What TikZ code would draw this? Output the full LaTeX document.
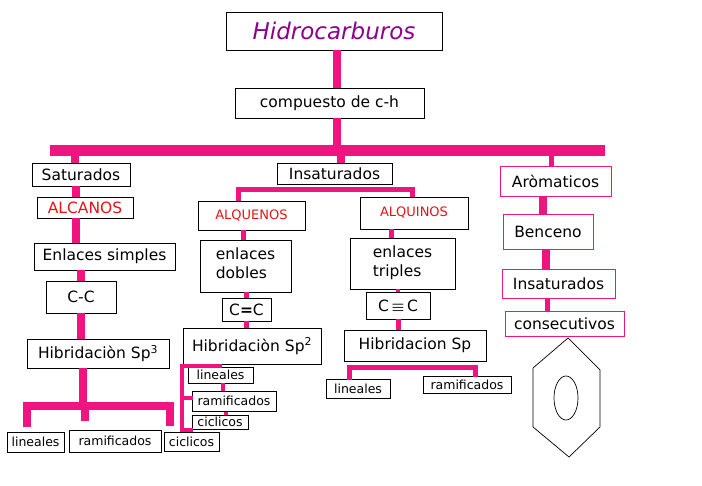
\documentclass[tikz,border=0pt]{standalone}
\usepackage{fontspec}
\setmainfont{DejaVu Sans}
\definecolor{pk}{RGB}{240,20,128}
\definecolor{pu}{RGB}{140,0,140}
\definecolor{rd}{RGB}{230,20,20}
\newcommand\bx[7]{\node[box,#6,minimum width={#4pt-#2pt},minimum height={#5pt-#3pt}] (#1) at ({(#2+#4)/2},{(#3+#5)/2}) {#7};}
\begin{document}
\begin{tikzpicture}[x=1pt,y=-1pt,
  box/.style={draw=black,line width=0.8pt,inner sep=0pt,font=\fontsize{15.5}{17}\selectfont},
  pbox/.style={draw=pk},
  sm/.style={font=\fontsize{12.5}{14}\selectfont},
  c8/.style={draw=pk,line width=8pt},
  c5/.style={draw=pk,line width=5pt},
  c3/.style={draw=pk,line width=3.5pt}]
\useasboundingbox (0,0) rectangle (702,486);
\fill[white] (0,0) rectangle (702,486);
% top
\bx{h}{226}{12}{442}{50}{}{\textcolor{pu}{\fontsize{23}{25}\selectfont\itshape Hidrocarburos}}
\bx{c}{235}{88}{424}{118}{}{compuesto de c-h}
\coordinate (bl) at (50,151); \coordinate (br) at (605,151);
\draw[c8,line width=11pt] (bl) -- (br);
\draw[c8] ([xshift=3]h.south) -- ([xshift=3]h.south |- c.north);
\draw[c8] ([xshift=3]h.south |- c.south) -- ([xshift=3]h.south |- bl);
% Saturados
\bx{sat}{32}{163}{130}{186}{}{Saturados}
\bx{alc}{37}{197}{133}{218}{}{\textcolor{rd}{ALCANOS}}
\bx{es}{34}{243}{175}{270}{}{Enlaces simples}
\bx{cc}{46}{281}{116}{313}{}{C-C}
\bx{h3}{27}{339}{169}{368}{}{Hibridaciòn Sp\textsuperscript{3}}
\bx{l1}{7}{432}{64}{452}{sm}{lineales}
\bx{r1}{69}{430}{161}{452}{sm}{ramificados}
\bx{ci1}{164}{432}{219}{451}{sm}{ciclicos}
\draw[c8] (75,155) -- (75,163);
\draw[c8] ([xshift=-5]sat.south) -- ([xshift=-5]sat.south |- alc.north);
\draw[c8] ([xshift=-9]alc.south) -- ([xshift=-9]alc.south |- es.north);
\draw[c8] (cc.north) -- (cc.north |- es.south);
\draw[c8] (cc.south) -- (cc.south |- h3.north);
\coordinate (b1) at (83,406);
\draw[c8] ([xshift=-15]h3.south) -- (b1);
\draw[c8] (23,406) -- (174,406);
\draw[c8] (27,402) -- (27,427);
\draw[c8] (85,402) -- (85,421);
\draw[c8] (170,402) -- (170,426);
% Insaturados
\bx{ins}{277}{163}{392}{184}{}{Insaturados}
\draw[c8] (341,155) -- (341,163);
\draw[c5] (238,202) -- (238,190) -- (412,190) -- (412,198);
\bx{alq}{198}{201}{305}{230}{}{\textcolor{rd}{\fontsize{13}{15}\selectfont ALQUENOS}}
\bx{ed}{200}{240}{291}{292}{}{\begin{tabular}{@{}l@{}}enlaces\\[2pt]dobles\end{tabular}}
\bx{cdc}{222}{298}{271}{321}{}{C\textbf{=}C}
\bx{h2}{183}{328}{321}{364}{}{Hibridaciòn Sp\textsuperscript{2}}
\draw[c5] ([xshift=-8]alq.south) -- ([xshift=-8]alq.south |- ed.north);
\draw[c5] (cdc.north) -- (cdc.north |- ed.south);
\draw[c5] (cdc.south) -- (cdc.south |- h2.north);
\bx{l2}{188}{367}{253}{383}{sm}{lineales}
\bx{r2}{192}{391}{276}{411}{sm}{ramificados}
\bx{ci2}{192}{415}{248}{429}{sm}{ciclicos}
\draw[c3] (222,366) -- (182,366) -- (182,430) -- (193,430);
\draw[c3] (182,398) -- (193,398);
\draw[c3] (223,383) -- (223,391);
\draw[c3] (226,412) -- (226,415);
% Alquinos
\bx{aq}{360}{197}{468}{229}{}{\textcolor{rd}{\fontsize{13}{15}\selectfont ALQUINOS}}
\bx{et}{350}{238}{455}{289}{}{\begin{tabular}{@{}l@{}}enlaces\\[2pt]triples\end{tabular}}
\bx{ctc}{366}{292}{430}{319}{}{C\,{\boldmath$\equiv$}\,C}
\bx{hs}{344}{330}{486}{361}{}{Hibridacion Sp}
\draw[c5] ([xshift=-23]aq.south) -- ([xshift=-23]aq.south |- et.north);
\draw[c3] (ctc.north) -- (ctc.north |- et.south);
\draw[c5] (ctc.south) -- (ctc.south |- hs.north);
\bx{l3}{326}{379}{390}{398}{sm}{lineales}
\bx{r3}{423}{376}{511}{393}{sm}{ramificados}
\draw[c5] (349,380) -- (349,368) -- (475,368) -- (475,377);
% Aromaticos
\bx{ar}{500}{166}{611}{196}{pbox}{Aròmaticos}
\bx{be}{503}{214}{593}{249}{pbox}{Benceno}
\bx{in2}{502}{269}{615}{298}{pbox}{Insaturados}
\bx{co}{505}{311}{624}{336}{pbox}{consecutivos}
\draw[c5] (551,155) -- (551,166);
\draw[c8] (543,196) -- (543,214);
\draw[c8] (546,249) -- (546,269);
\draw[c5] (547,298) -- (547,311);
\draw[line width=0.7pt] (568,338) -- (600,370) -- (600,427) -- (569,457) -- (533,427) -- (533,368) -- cycle;
\draw[line width=0.7pt] (566,398) ellipse [x radius=12, y radius=22];
\end{tikzpicture}
\end{document}
